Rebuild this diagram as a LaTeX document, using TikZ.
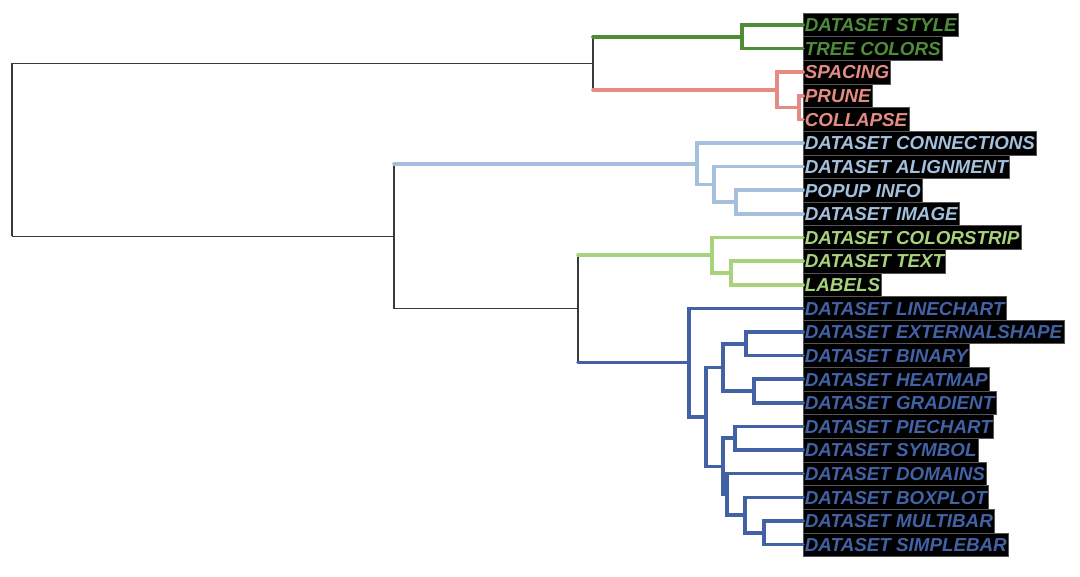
\documentclass[tikz,border=0pt]{standalone}
\usepackage{fontspec}
\setmainfont{Liberation Sans}
\usetikzlibrary{calc}
\definecolor{cGreen}{HTML}{4E8C38}
\definecolor{cPink}{HTML}{E48C83}
\definecolor{cLBlue}{HTML}{A4C0DD}
\definecolor{cLGreen}{HTML}{A9D27C}
\definecolor{cBlue}{HTML}{4262A5}
\definecolor{cThin}{HTML}{3A3A3A}
\definecolor{cBorder}{HTML}{555555}
\begin{document}
\begin{tikzpicture}[x=1pt,y=-1pt,
  br/.style={line width=3.6pt,line cap=round,line join=miter},
  thinbr/.style={line width=1.1pt,draw=cThin,line cap=butt},
  lab/.style={anchor=west,fill=black,draw=cBorder,line width=0.6pt,
    minimum height=23.6pt,inner xsep=1.6pt,inner ysep=0pt,
    text height=13.6pt,text depth=0pt,
    font=\fontsize{18.8}{20}\selectfont\bfseries\itshape}]
\useasboundingbox (0,0) rectangle (1080,577);
% leaf labels
\node[lab,text=cGreen]  (l0)  at (803,25.0)  {DATASET STYLE};
\node[lab,text=cGreen]  (l1)  at (803,48.6)  {TREE COLORS};
\node[lab,text=cPink]   (l2)  at (803,72.2)  {SPACING};
\node[lab,text=cPink]   (l3)  at (803,95.9)  {PRUNE};
\node[lab,text=cPink]   (l4)  at (803,119.5) {COLLAPSE};
\node[lab,text=cLBlue]  (l5)  at (803,143.1) {DATASET CONNECTIONS};
\node[lab,text=cLBlue]  (l6)  at (803,166.7) {DATASET ALIGNMENT};
\node[lab,text=cLBlue]  (l7)  at (803,190.3) {POPUP INFO};
\node[lab,text=cLBlue]  (l8)  at (803,213.9) {DATASET IMAGE};
\node[lab,text=cLGreen] (l9)  at (803,237.6) {DATASET COLORSTRIP};
\node[lab,text=cLGreen] (l10) at (803,261.2) {DATASET TEXT};
\node[lab,text=cLGreen] (l11) at (803,284.8) {LABELS};
\node[lab,text=cBlue]   (l12) at (803,308.4) {DATASET LINECHART};
\node[lab,text=cBlue]   (l13) at (803,332.0) {DATASET EXTERNALSHAPE};
\node[lab,text=cBlue]   (l14) at (803,355.6) {DATASET BINARY};
\node[lab,text=cBlue]   (l15) at (803,379.3) {DATASET HEATMAP};
\node[lab,text=cBlue]   (l16) at (803,402.9) {DATASET GRADIENT};
\node[lab,text=cBlue]   (l17) at (803,426.5) {DATASET PIECHART};
\node[lab,text=cBlue]   (l18) at (803,450.1) {DATASET SYMBOL};
\node[lab,text=cBlue]   (l19) at (803,473.7) {DATASET DOMAINS};
\node[lab,text=cBlue]   (l20) at (803,497.3) {DATASET BOXPLOT};
\node[lab,text=cBlue]   (l21) at (803,521.0) {DATASET MULTIBAR};
\node[lab,text=cBlue]   (l22) at (803,544.6) {DATASET SIMPLEBAR};
% internal nodes
\coordinate (T) at (742,36.8);
\coordinate (R) at (799,107.7);
\coordinate (S) at (777,90.0);
\coordinate (U) at (593,63.4);
\coordinate (N) at (736,202.1);
\coordinate (O) at (714,184.4);
\coordinate (P) at (697,163.8);
\coordinate (K) at (731,273.0);
\coordinate (L) at (712,255.3);
\coordinate (J) at (764,532.8);
\coordinate (I) at (745,515.1);
\coordinate (H) at (727,494.4);
\coordinate (G) at (735,438.3);
\coordinate (D) at (723,466.4);
\coordinate (F) at (754,391.1);
\coordinate (E) at (746,343.8);
\coordinate (C) at (723,367.4);
\coordinate (B) at (706,416.9);
\coordinate (A) at (689,362.6);
\coordinate (M) at (578,308.9);
\coordinate (Q) at (394,236.3);
\coordinate (Rt) at (12,149.9);
% green
\draw[br,cGreen] (T) |- (l0.west);
\draw[br,cGreen] (T) |- (l1.west);
% pink
\draw[br,cPink] (R) |- (l3.west);
\draw[br,cPink] (R) |- (l4.west);
\draw[br,cPink] (S) |- (l2.west);
\draw[br,cPink] (S) |- (R);
% light blue
\draw[br,cLBlue] (N) |- (l7.west);
\draw[br,cLBlue] (N) |- (l8.west);
\draw[br,cLBlue] (O) |- (l6.west);
\draw[br,cLBlue] (O) |- (N);
\draw[br,cLBlue] (P) |- (l5.west);
\draw[br,cLBlue] (P) |- (O);
% light green
\draw[br,cLGreen] (K) |- (l10.west);
\draw[br,cLGreen] (K) |- (l11.west);
\draw[br,cLGreen] (L) |- (l9.west);
\draw[br,cLGreen] (L) |- (K);
% blue
\draw[br,cBlue] (J) |- (l21.west);
\draw[br,cBlue] (J) |- (l22.west);
\draw[br,cBlue] (I) |- (l20.west);
\draw[br,cBlue] (I) |- (J);
\draw[br,cBlue] (H) |- (l19.west);
\draw[br,cBlue] (H) |- (I);
\draw[br,cBlue] (G) |- (l17.west);
\draw[br,cBlue] (G) |- (l18.west);
\draw[br,cBlue] (D) |- (G);
\draw[br,cBlue] (D) |- (H);
\draw[br,cBlue] (F) |- (l15.west);
\draw[br,cBlue] (F) |- (l16.west);
\draw[br,cBlue] (E) |- (l13.west);
\draw[br,cBlue] (E) |- (l14.west);
\draw[br,cBlue] (C) |- (E);
\draw[br,cBlue] (C) |- (F);
\draw[br,cBlue] (B) |- (C);
\draw[br,cBlue] (B) |- (D);
\draw[br,cBlue] (A) |- (l12.west);
\draw[br,cBlue] (A) |- (B);
% black joints
\draw[thinbr] (U |- T) -- (U |- S);
\draw[br,cGreen] (U |- T) -- (T);
\draw[br,cPink] (U |- S) -- (S);
\draw[thinbr] (M |- L) -- (M |- A);
\draw[br,cLGreen] (M |- L) -- (L);
\draw[br,cBlue] (M |- A) -- (A);
\draw[thinbr] (Q |- P) -- (Q |- M);
\draw[br,cLBlue] (Q |- P) -- (P);
\draw[thinbr] (Q |- M) -- (M);
\draw[thinbr] (Rt |- U) -- (Rt |- Q);
\draw[thinbr] (Rt |- U) -- (U);
\draw[thinbr] (Rt |- Q) -- (Q);
\end{tikzpicture}
\end{document}
